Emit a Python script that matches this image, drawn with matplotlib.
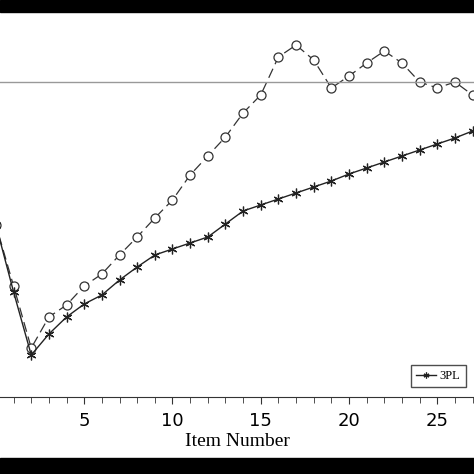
import matplotlib
matplotlib.use("Agg")
import matplotlib.pyplot as plt
from matplotlib.patches import Rectangle
from matplotlib.ticker import MultipleLocator

items = list(range(0, 28))
circle_vals = [1.72, 1.11, 0.49, 0.80, 0.92, 1.11, 1.23, 1.42, 1.60, 1.79, 1.97, 2.22, 2.41, 2.60,
               2.84, 3.02, 3.40, 3.52, 3.37, 3.09, 3.21, 3.34, 3.46, 3.34, 3.15, 3.09, 3.15, 3.02]
star_vals = [1.72, 1.05, 0.42, 0.63, 0.80, 0.93, 1.02, 1.17, 1.30, 1.42, 1.48, 1.54, 1.60, 1.73,
             1.86, 1.92, 1.98, 2.04, 2.10, 2.16, 2.23, 2.29, 2.35, 2.41, 2.47, 2.53, 2.59, 2.66]
ref_level = 3.15
xticks = [5, 10, 15, 20, 25]

fig = plt.figure(figsize=(4.74, 4.74), dpi=100, facecolor="white")
W = H = 474.0
ax = fig.add_axes([0, 1 - 397 / H, 1, (397 - 14) / H])
ax.plot(items, circle_vals, color="#333333", lw=0.9, ls=(0, (8, 4)), marker="o",
        mfc="white", mec="#333333", ms=6.5, mew=0.9)
ax.plot(items, star_vals, color="#222222", lw=1.0, marker=(6, 2, 0), ms=7,
        mec="#222222", mew=0.9, label="3PL")
ax.axhline(ref_level, color="#999999", lw=1)
ax.set_xlim(0.23, 27.08)
ax.set_ylim(0, 3.83)
for s in ["left", "right", "top"]:
    ax.spines[s].set_visible(False)
ax.spines["bottom"].set_color("#333333")
ax.set_yticks([])
ax.xaxis.set_major_locator(MultipleLocator(5))
ax.xaxis.set_minor_locator(MultipleLocator(1))
ax.set_xticks(xticks)
ax.tick_params(axis="x", which="both", direction="out", length=5, color="#333333",
               labelsize=13, pad=6)
ax.tick_params(axis="x", which="minor", length=4)
ax.set_xlabel("Item Number", family="Liberation Serif", fontsize=14, labelpad=2)
leg = ax.legend(loc="upper left", bbox_to_anchor=(411 / W, 1 - 365 / H),
                bbox_transform=fig.transFigure, frameon=True, fancybox=False,
                prop={"family": "Liberation Serif", "size": 9}, handlelength=1.6,
                handletextpad=0.3, borderpad=0.4, borderaxespad=0, edgecolor="#222222",
                markerscale=0.6)
fig.add_artist(Rectangle((0, 1 - 12 / H), 1, 12 / H, transform=fig.transFigure,
                         color="black", zorder=10))
fig.add_artist(Rectangle((0, 0), 1, 16 / H, transform=fig.transFigure,
                         color="black", zorder=10))
fig.savefig("out.png", dpi=100, facecolor="white")
